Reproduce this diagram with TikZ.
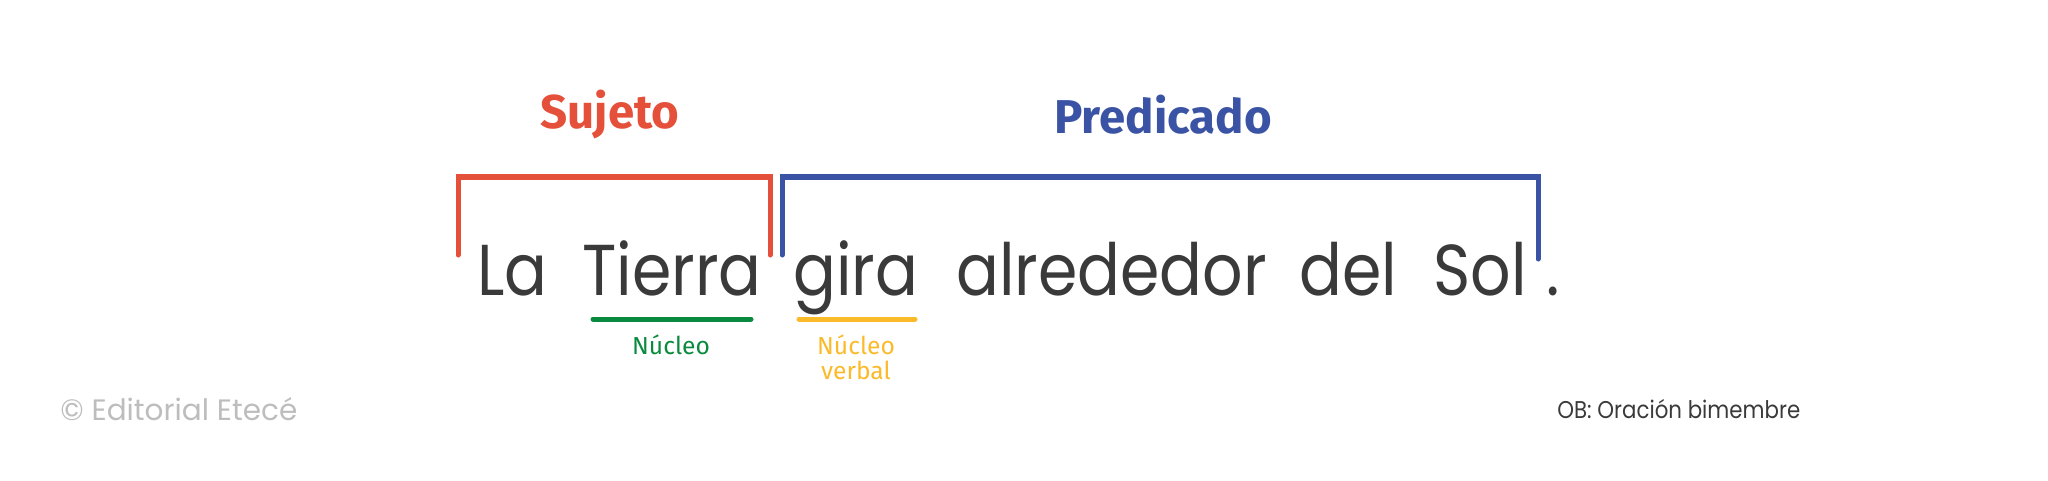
\documentclass[tikz,border=0pt]{standalone}
\usepackage{fontspec}
\setmainfont{Poppins}[FakeStretch=0.88]
\setsansfont{Fira Sans}
\newfontfamily\creditfont{Poppins}
\usepackage{tikz}
\tikzset{>=latex}
\definecolor{sujred}{HTML}{E5503A}
\definecolor{predblue}{HTML}{3A53A4}
\definecolor{nucgreen}{HTML}{0A8A3E}
\definecolor{verbyellow}{HTML}{FBBA2A}
\definecolor{ink}{HTML}{3A3A3A}
\definecolor{credit}{HTML}{BDBDBD}
\tikzset{
    word/.style={anchor=base west, inner sep=0pt, text=ink, font=\fontsize{41}{48}\selectfont},
    bracket/.style={line width=2.85pt, line cap=round},
    underline/.style={line width=2.85pt, line cap=round},
    partlabel/.style={inner sep=0pt, font=\sffamily\bfseries\fontsize{27}{32}\selectfont},
    nuclabel/.style={inner sep=0pt, align=center, font=\sffamily\fontsize{14}{14}\selectfont}
}

\begin{document}
\begin{tikzpicture}[x=0.02cm, y=-0.02cm]
    \useasboundingbox(0, 0)rectangle(2048, 480);
    \node[word](la) at (477, 295){La};
    \node[word](tierra) at (582, 295){Tierra};
    \node[word](gira) at (793, 295){gira};
    \node[word](alrededor) at (956, 295){alrededor};
    \node[word](del) at (1299, 295){del};
    \node[word](sol) at (1433, 295){Sol};
    \node[word](punto) at (1546, 295){.};
    \draw[bracket, sujred](458, 255)--(458, 177)--(770, 177)--(770, 255);
    \draw[bracket, predblue](782, 255)--(782, 177)--(1538, 177)--(1538, 259);
    \node[partlabel, text=sujred](sujeto) at (610, 115){Sujeto};
    \node[partlabel, text=predblue](predicado) at (1163, 115){Predicado};
    \draw[underline, nucgreen](593, 319)--(751, 319);
    \draw[underline, verbyellow](799, 319)--(915, 319);
    \node[nuclabel, text=nucgreen](nucleo) at (671, 345){Núcleo};
    \node[nuclabel, text=verbyellow](nucverbal) at (856, 357){Núcleo\\verbal};
    \node[inner sep=0pt, anchor=west, text=credit, font=\creditfont\fontsize{16.8}{20}\selectfont](editorial) at (60, 409){© Editorial Etecé};
    \node[inner sep=0pt, anchor=west, text=ink, font=\fontsize{13.8}{16}\selectfont](ob) at (1557, 409){OB: Oración bimembre};
\end{tikzpicture}
\end{document}
